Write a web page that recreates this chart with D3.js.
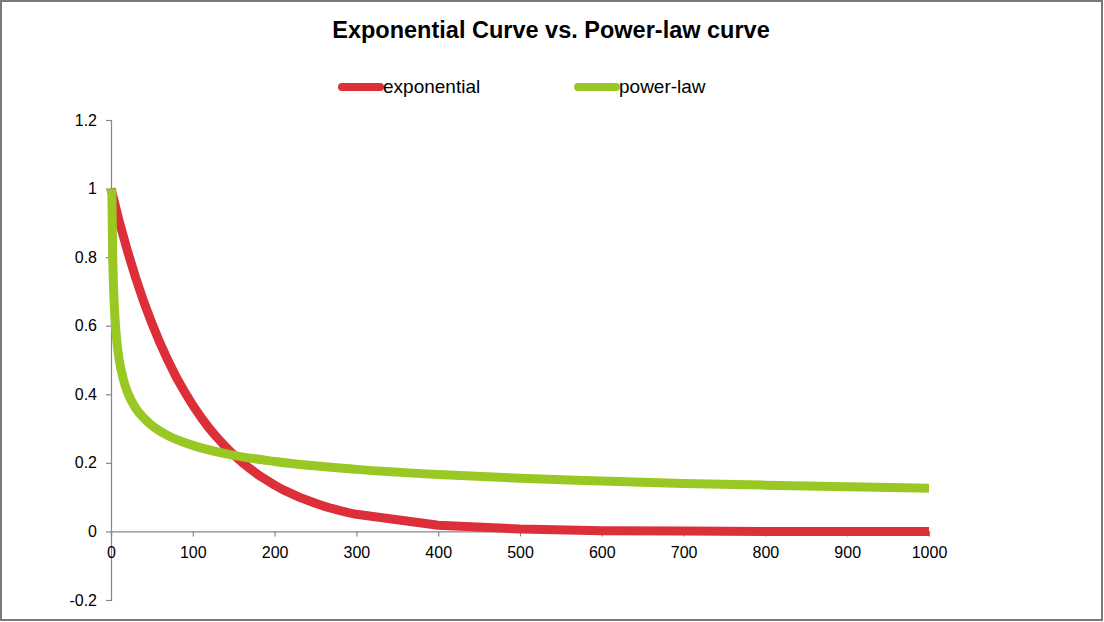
<!DOCTYPE html>
<html lang="en">
<head>
  <meta charset="UTF-8">
  <title>Exponential Curve vs. Power-law curve</title>
  <style>
    body { margin: 0; background: #fff; }
    text { font-family: "Liberation Sans", "DejaVu Sans", sans-serif; fill: #000; }
  </style>
</head>
<body>
  <svg></svg>
  <script src="https://cdn.jsdelivr.net/npm/d3@7"></script>
  <script>
    var width = 1104
    var height = 622

    // exponential series
    var expX = [0, 10, 20, 30, 40, 50, 60, 70, 80, 90, 100, 110, 120, 130, 140, 150, 160, 170, 180, 190, 200,
                210, 220, 230, 240, 250, 260, 270, 280, 290, 300, 400, 500, 600, 700, 800, 900, 1000]
    var expY = [1, 0.905, 0.819, 0.741, 0.670, 0.607, 0.549, 0.497, 0.449, 0.407, 0.368, 0.333, 0.301, 0.273, 0.247, 0.223, 0.202, 0.183, 0.165, 0.150, 0.135,
                0.122, 0.111, 0.100, 0.091, 0.082, 0.074, 0.067, 0.061, 0.055, 0.050, 0.018, 0.007, 0.002, 0.001, 0, 0, 0]

    // power-law series
    var powX = [1, 2, 3, 5, 7, 10, 15, 20, 30, 40, 50, 70, 100, 150, 200, 300, 400, 500, 600, 700, 800, 900, 1000]
    var powY = [1, 0.812, 0.719, 0.617, 0.558, 0.501, 0.444, 0.407, 0.360, 0.331, 0.309, 0.279, 0.251, 0.222, 0.204, 0.181, 0.166, 0.155, 0.147, 0.140, 0.135, 0.130, 0.126]

    var xTicks = [0, 100, 200, 300, 400, 500, 600, 700, 800, 900, 1000]
    var yTicks = [-0.2, 0, 0.2, 0.4, 0.6, 0.8, 1, 1.2]

    var seriesNames = ["exponential", "power-law"]
    var colors = ["#dc2f3a", "#99c824"]

    var x = d3.scaleLinear().domain([0, 1000]).range([111, 929])
    var y = d3.scaleLinear().domain([-0.2, 1.2]).range([600, 120])

    var svg = d3.select("svg")
      .attr("width", width)
      .attr("height", height)

    svg.append("rect")
      .attr("x", 1).attr("y", 1)
      .attr("width", width - 3).attr("height", height - 3)
      .attr("fill", "#fff")
      .attr("stroke", "#7a7a7a")
      .attr("stroke-width", 2)

    svg.append("text")
      .attr("x", 551).attr("y", 38)
      .attr("text-anchor", "middle")
      .attr("font-size", 23.5)
      .attr("font-weight", "bold")
      .text("Exponential Curve vs. Power-law curve")

    // y axis
    var yAxis = svg.append("g")
      .attr("transform", "translate(" + x(0) + ",0)")
      .call(d3.axisLeft(y).tickValues(yTicks).tickSize(5).tickPadding(9)
        .tickFormat(d => String(+d.toFixed(1))))
    yAxis.selectAll("text").attr("font-size", 16)

    // x axis at y = 0
    var xAxis = svg.append("g")
      .attr("transform", "translate(0," + y(0) + ")")
      .call(d3.axisBottom(x).tickValues(xTicks).tickSize(5).tickPadding(10)
        .tickFormat(d => String(d)))
    xAxis.selectAll("text").attr("font-size", 16)

    svg.selectAll(".domain, .tick line")
      .attr("stroke", "#868686")
      .attr("stroke-width", 1.2)
    svg.selectAll(".domain").attr("d", function() {
      return d3.select(this).attr("d").replace(/V6|V-6/g, "")
    })

    var expLine = d3.line()
      .x(d => x(d[0]))
      .y(d => y(d[1]))

    var powLine = d3.line()
      .x(d => x(d[0]))
      .y(d => y(d[1]))
      .curve(d3.curveMonotoneX)

    var expData = expX.map((v, i) => [v, expY[i]])
    var powData = powX.map((v, i) => [v, powY[i]])

    svg.append("path")
      .datum(expData)
      .attr("d", expLine)
      .attr("fill", "none")
      .attr("stroke", colors[0])
      .attr("stroke-width", 9)
      .attr("stroke-linejoin", "round")

    svg.append("path")
      .datum(powData)
      .attr("d", powLine)
      .attr("fill", "none")
      .attr("stroke", colors[1])
      .attr("stroke-width", 9)
      .attr("stroke-linejoin", "round")

    // legend
    var legendX = [342, 578]
    var legend = svg.selectAll(".legend")
      .data(seriesNames)
      .join("g")
      .attr("class", "legend")
      .attr("transform", (d, i) => "translate(" + legendX[i] + ",87)")
    legend.append("line")
      .attr("x1", 0).attr("x2", 38)
      .attr("stroke", (d, i) => colors[i])
      .attr("stroke-width", 8)
      .attr("stroke-linecap", "round")
    legend.append("text")
      .attr("x", 41).attr("y", 6)
      .attr("font-size", 19)
      .text(d => d)
  </script>
</body>
</html>
